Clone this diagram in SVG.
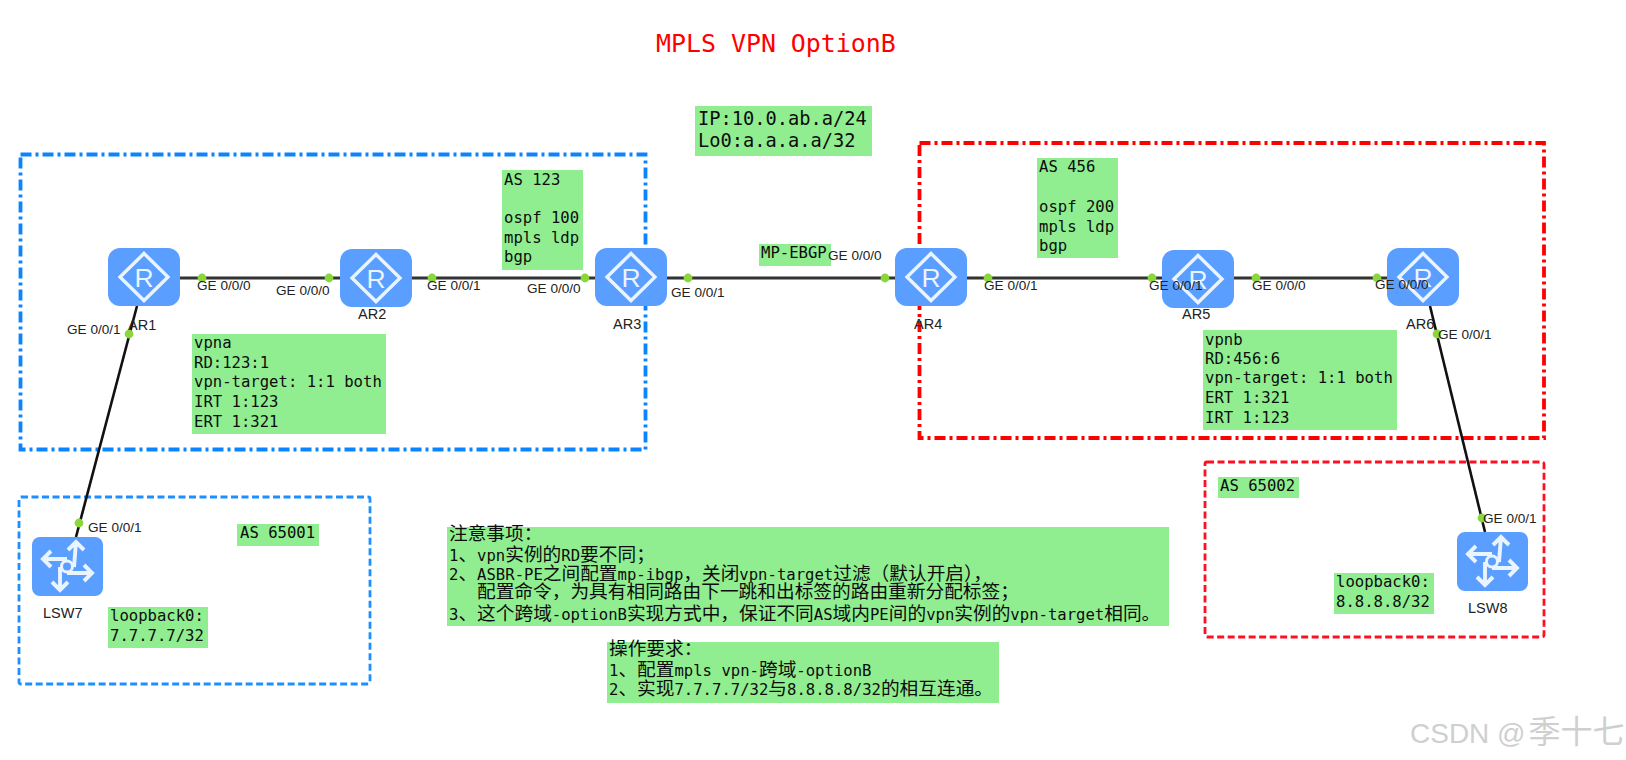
<svg xmlns="http://www.w3.org/2000/svg" xmlns:xlink="http://www.w3.org/1999/xlink" width="1626" height="760" viewBox="0 0 1626 760">
<style>
text{white-space:pre}
.note{fill:#90EE90}
.m{font-family:"DejaVu Sans Mono","Noto Sans CJK SC",monospace;font-size:15.6px;fill:#0c0c0c}
.c{font-family:"Noto Sans CJK SC",sans-serif;font-size:18.7px}
.ge{font-family:"Liberation Sans",Arial,sans-serif;font-size:13.6px;fill:#222}
.nm{font-family:"Liberation Sans",Arial,sans-serif;font-size:14.5px;fill:#222}
.dot{fill:#8AD63C}
.fr{fill:none}
.ln{stroke:#333;stroke-width:3;fill:none}
.lk{stroke:#111;stroke-width:2.6;fill:none}
.ic{fill:none;stroke:#EAF4FF;stroke-width:3.4}
.sw{fill:none;stroke:#EAF4FF;stroke-width:3.9}
</style>
<defs>
<g id="router">
<rect width="72" height="58" rx="12" fill="#5A9EFF"/>
<path class="ic" d="M36 5.5L60 29L36 52.5L12 29Z"/>
<text x="36" y="38.5" text-anchor="middle" font-family="Liberation Sans,Arial,sans-serif" font-size="26.5" fill="#EAF4FF">R</text>
</g>
<g id="switch">
<rect width="71" height="59" rx="8" fill="#5A9EFF"/>
<path class="sw" d="M42 30L44 5M36 13L44 5L52 13M35 22H11M19 14L11 22L19 30M35 36H60M52 28L60 36L52 44M28 30V53M20 45L28 53L36 45"/>
<circle cx="35" cy="29.5" r="5.5" fill="#5A9EFF" stroke="#EAF4FF" stroke-width="3"/>
</g>
</defs>
<rect width="1626" height="760" fill="#fff"/>

<g id="frames">
<rect id="as123-frame" class="fr" x="20.5" y="154.5" width="625" height="295" stroke="#0A84FF" stroke-width="3.8" stroke-dasharray="11 4 3 4"/>
<rect id="as456-frame" class="fr" x="919.5" y="143" width="624.5" height="295" stroke="#FF0000" stroke-width="3.8" stroke-dasharray="11 4 3 4"/>
<rect id="as65001-frame" class="fr" x="19" y="497" width="351" height="187" rx="2" stroke="#1E8FFF" stroke-width="2.8" stroke-dasharray="7 3.5"/>
<rect id="as65002-frame" class="fr" x="1205" y="462" width="339" height="175" rx="2" stroke="#FF1020" stroke-width="2.8" stroke-dasharray="7 3.5"/>
</g>

<g id="connectors">
<path class="ln" d="M180 278H340"/>
<path class="ln" d="M411 278H595"/>
<path class="ln" d="M666 278H895"/>
<path class="ln" d="M966 278H1162"/>
<path class="ln" d="M1233 278H1387"/>
<path class="lk" d="M137 306L76 537"/>
<path class="lk" d="M1430 306L1485 532"/>
</g>

<g id="AR1"><use href="#router" x="108" y="248"/></g>
<g id="AR2"><use href="#router" x="340" y="249"/></g>
<g id="AR3"><use href="#router" x="595" y="248"/></g>
<g id="AR4"><use href="#router" x="895" y="248"/></g>
<g id="AR5"><use href="#router" x="1162" y="250"/></g>
<g id="AR6"><use href="#router" x="1387" y="248"/></g>
<g id="LSW7"><use href="#switch" x="32" y="537"/></g>
<g id="LSW8"><use href="#switch" x="1457" y="532"/></g>

<g id="ports">
<circle class="dot" cx="202" cy="278" r="4.4"/>
<circle class="dot" cx="329" cy="278" r="4.4"/>
<circle class="dot" cx="432" cy="278" r="4.4"/>
<circle class="dot" cx="585" cy="278" r="4.4"/>
<circle class="dot" cx="688" cy="278" r="4.4"/>
<circle class="dot" cx="885" cy="278" r="4.4"/>
<circle class="dot" cx="988" cy="278" r="4.4"/>
<circle class="dot" cx="1152" cy="278" r="4.4"/>
<circle class="dot" cx="1256" cy="278" r="4.4"/>
<circle class="dot" cx="1377" cy="278" r="4.4"/>
<circle class="dot" cx="129" cy="334" r="4.4"/>
<circle class="dot" cx="1437" cy="334" r="4.4"/>
<circle class="dot" cx="79" cy="523" r="4.4"/>
<circle class="dot" cx="1482" cy="518" r="4.4"/>
</g>

<g id="notes">
<rect class="note" x="695" y="106" width="177" height="50"/>
<rect class="note" x="502" y="170" width="81" height="100"/>
<rect class="note" x="1037" y="158" width="81" height="100"/>
<rect class="note" x="759" y="244" width="72" height="22"/>
<rect class="note" x="192" y="334" width="194" height="100"/>
<rect class="note" x="1203" y="330" width="194" height="100"/>
<rect class="note" x="237" y="524" width="82" height="22"/>
<rect class="note" x="108" y="607" width="100" height="41"/>
<rect class="note" x="1218" y="477" width="81" height="21"/>
<rect class="note" x="1334" y="573" width="100" height="41"/>
<rect class="note" x="447" y="527" width="722" height="99"/>
<rect class="note" x="607" y="642" width="392" height="61"/>
</g>

<g id="texts">
<text x="656" y="52" font-family="DejaVu Sans Mono,monospace" font-size="24.9" fill="#FF0000">MPLS VPN OptionB</text>
<text class="m" x="698" y="125" style="font-size:18.7px">IP:10.0.ab.a/24</text>
<text class="m" x="698" y="147" style="font-size:18.7px">Lo0:a.a.a.a/32</text>
<text class="m" x="504" y="185">AS 123</text>
<text class="m" x="504" y="223">ospf 100</text>
<text class="m" x="504" y="243">mpls ldp</text>
<text class="m" x="504" y="262">bgp</text>
<text class="m" x="1039" y="172">AS 456</text>
<text class="m" x="1039" y="212">ospf 200</text>
<text class="m" x="1039" y="232">mpls ldp</text>
<text class="m" x="1039" y="251">bgp</text>
<text class="m" x="761" y="258">MP-EBGP</text>
<text class="m" x="194" y="348">vpna</text>
<text class="m" x="194" y="368">RD:123:1</text>
<text class="m" x="194" y="387">vpn-target: 1:1 both</text>
<text class="m" x="194" y="407">IRT 1:123</text>
<text class="m" x="194" y="427">ERT 1:321</text>
<text class="m" x="1205" y="345">vpnb</text>
<text class="m" x="1205" y="364">RD:456:6</text>
<text class="m" x="1205" y="383">vpn-target: 1:1 both</text>
<text class="m" x="1205" y="403">ERT 1:321</text>
<text class="m" x="1205" y="423">IRT 1:123</text>
<text class="m" x="240" y="538">AS 65001</text>
<text class="m" x="110" y="621">loopback0:</text>
<text class="m" x="110" y="641">7.7.7.7/32</text>
<text class="m" x="1220" y="491">AS 65002</text>
<text class="m" x="1336" y="587">loopback0:</text>
<text class="m" x="1336" y="607">8.8.8.8/32</text>

<text class="m" x="449" y="540"><tspan class="c">注意事项：</tspan></text>
<text class="m" x="449" y="561">1<tspan class="c">、</tspan>vpn<tspan class="c">实例的</tspan>RD<tspan class="c">要不同；</tspan></text>
<text class="m" x="449" y="580">2<tspan class="c">、</tspan>ASBR-PE<tspan class="c">之间配置</tspan>mp-ibgp<tspan class="c">，关闭</tspan>vpn-target<tspan class="c">过滤（默认开启），</tspan></text>
<text class="m" x="477" y="598"><tspan class="c">配置命令，为具有相同路由下一跳和出标签的路由重新分配标签；</tspan></text>
<text class="m" x="449" y="620">3<tspan class="c">、这个跨域</tspan>-optionB<tspan class="c">实现方式中，保证不同</tspan>AS<tspan class="c">域内</tspan>PE<tspan class="c">间的</tspan>vpn<tspan class="c">实例的</tspan>vpn-target<tspan class="c">相同。</tspan></text>

<text class="m" x="609" y="655"><tspan class="c">操作要求：</tspan></text>
<text class="m" x="609" y="676">1<tspan class="c">、配置</tspan>mpls vpn-<tspan class="c">跨域</tspan>-optionB</text>
<text class="m" x="609" y="695">2<tspan class="c">、实现</tspan>7.7.7.7/32<tspan class="c">与</tspan>8.8.8.8/32<tspan class="c">的相互连通。</tspan></text>

<text class="ge" x="197" y="290">GE 0/0/0</text>
<text class="ge" x="276" y="295">GE 0/0/0</text>
<text class="ge" x="427" y="290">GE 0/0/1</text>
<text class="ge" x="527" y="293">GE 0/0/0</text>
<text class="ge" x="671" y="297">GE 0/0/1</text>
<text class="ge" x="828" y="260">GE 0/0/0</text>
<text class="ge" x="984" y="290">GE 0/0/1</text>
<text class="ge" x="1149" y="290">GE 0/0/1</text>
<text class="ge" x="1252" y="290">GE 0/0/0</text>
<text class="ge" x="1375" y="289">GE 0/0/0</text>
<text class="ge" x="1438" y="339">GE 0/0/1</text>
<text class="ge" x="67" y="334">GE 0/0/1</text>
<text class="ge" x="88" y="532">GE 0/0/1</text>
<text class="ge" x="1483" y="523">GE 0/0/1</text>

<text class="nm" x="128" y="330">AR1</text>
<text class="nm" x="358" y="319">AR2</text>
<text class="nm" x="613" y="329">AR3</text>
<text class="nm" x="914" y="329">AR4</text>
<text class="nm" x="1182" y="319">AR5</text>
<text class="nm" x="1406" y="329">AR6</text>
<text class="nm" x="43" y="618">LSW7</text>
<text class="nm" x="1468" y="613">LSW8</text>

<text x="1410" y="743" font-family="Liberation Sans,Noto Sans CJK SC,sans-serif" font-size="28" fill="#cfcfcf">CSDN @<tspan dx="3" font-family="Noto Sans CJK SC,sans-serif" font-size="32">季十七</tspan></text>
</g>
</svg>
